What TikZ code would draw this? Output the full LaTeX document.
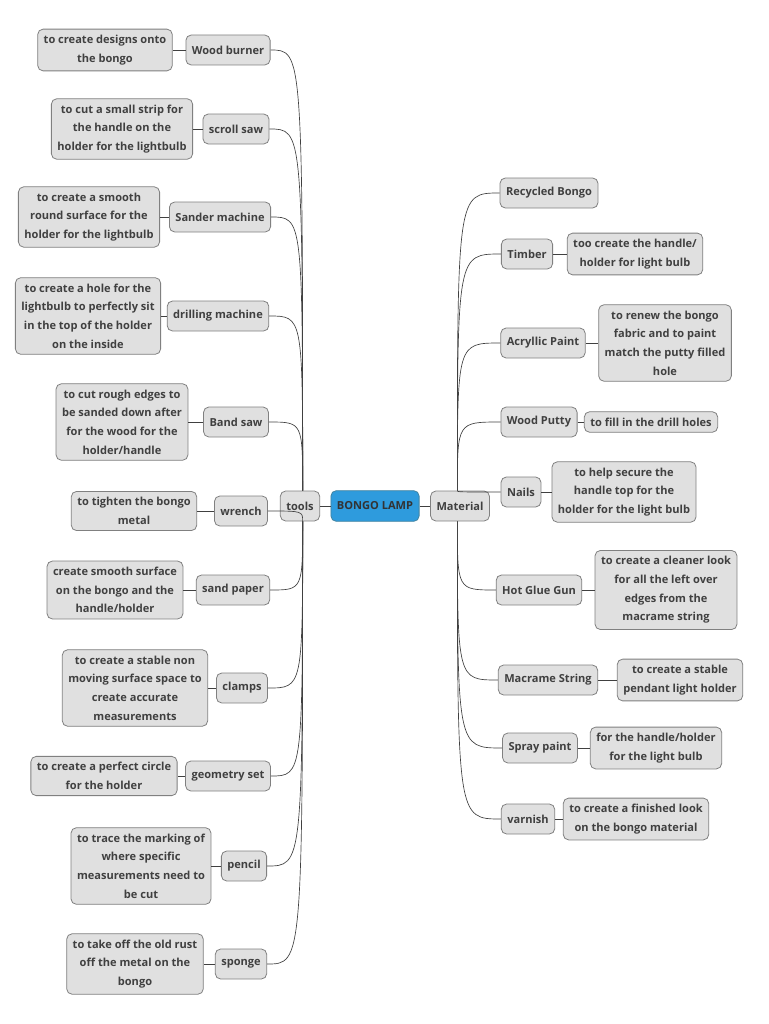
\documentclass[tikz,border=0pt]{standalone}
\usepackage{fontspec}
\setmainfont{Open Sans}
\begin{document}
\begin{tikzpicture}[x=0.75pt,y=-0.75pt,
 box/.style={draw=black!50,fill=black!12,rounded corners=4pt,align=center,
   font=\fontsize{8.3}{14}\selectfont\bfseries,text=black!75,inner sep=4.5pt,line width=0.6pt},
 lbl/.style={box,minimum height=22.5pt},
 ln/.style={draw=black!75,line width=0.5pt}]
\useasboundingbox (0,0) rectangle (768,1024);
\node[box,fill=cyan!75!blue!85,draw=cyan!60!black,minimum height=23pt,minimum width=60pt,text=black!80] (c) at (375,506) {BONGO LAMP};
\node[lbl] (tools) at (300,506) {tools};
\node[lbl] (mat) at (460,506) {Material};
\draw[ln] (c) -- (tools); \draw[ln] (c) -- (mat);
% left
\foreach \n/\x/\y/\t/\dx/\d in {
 a/228/50/Wood burner/105/{to create designs onto\\the bongo},
 b/236/129/scroll saw/122/{to cut a small strip for\\the handle on the\\holder for the lightbulb},
 cc/220/217/Sander machine/89/{to create a smooth\\round surface for the\\holder for the lightbulb},
 d/218/316/drilling machine/88/{to create a hole for the\\lightbulb to perfectly sit\\in the top of the holder\\on the inside},
 e/236/422/Band saw/122/{to cut rough edges to\\be sanded down after\\for the wood for the\\holder/handle},
 f/241/511/wrench/134/{to tighten the bongo\\metal},
 g/233/590/sand paper/115/{create smooth surface\\on the bongo and the\\handle/holder},
 h/242/688/clamps/135/{to create a stable non\\moving surface space to\\create accurate\\measurements},
 i/228/776/geometry set/104/{to create a perfect circle\\for the holder},
 j/244/866/pencil/141/{to trace the marking of\\where specific\\measurements need to\\be cut},
 k/241/964/sponge/135/{to take off the old rust\\off the metal on the\\bongo}}{
 \node[lbl] (L\n) at (\x,\y) {\t};
 \node[box] (D\n) at (\dx,\y) {\d};
 \draw[ln] (L\n) -- (D\n);
 \ifnum\y<506
  \draw[ln] ([xshift=2pt]tools.north) .. controls ([xshift=2pt]tools.north |- L\n.east) .. (L\n.east);
 \else
  \draw[ln] ([xshift=2pt]tools.south) .. controls ([xshift=2pt]tools.south |- L\n.east) .. (L\n.east);
 \fi
}
% right
\node[lbl] (Rr) at (549,193) {Recycled Bongo};
\draw[ln] ([xshift=-2pt]mat.north) .. controls ([xshift=-2pt]mat.north |- Rr.west) .. (Rr.west);
\foreach \n/\x/\y/\t/\dx/\d in {
 a/527/254/Timber/635/{too create the handle/\\holder for light bulb},
 b/543/343/Acryllic Paint/665/{to renew the bongo\\fabric and to paint\\match the putty filled\\hole},
 cc/539/422/Wood Putty/651/{to fill in the drill holes},
 d/521/492/Nails/624/{to help secure the\\handle top for the\\holder for the light bulb},
 e/539/590/Hot Glue Gun/666/{to create a cleaner look\\for all the left over\\edges from the\\macrame string},
 f/548/680/Macrame String/680/{to create a stable\\pendant light holder},
 g/540/748/Spray paint/656/{for the handle/holder\\for the light bulb},
 h/528/819/varnish/636/{to create a finished look\\on the bongo material}}{
 \node[lbl] (R\n) at (\x,\y) {\t};
 \node[box] (E\n) at (\dx,\y) {\d};
 \draw[ln] (R\n) -- (E\n);
 \ifnum\y<506
  \draw[ln] ([xshift=-2pt]mat.north) .. controls ([xshift=-2pt]mat.north |- R\n.west) .. (R\n.west);
 \else
  \draw[ln] ([xshift=-2pt]mat.south) .. controls ([xshift=-2pt]mat.south |- R\n.west) .. (R\n.west);
 \fi
}
\end{tikzpicture}
\end{document}
